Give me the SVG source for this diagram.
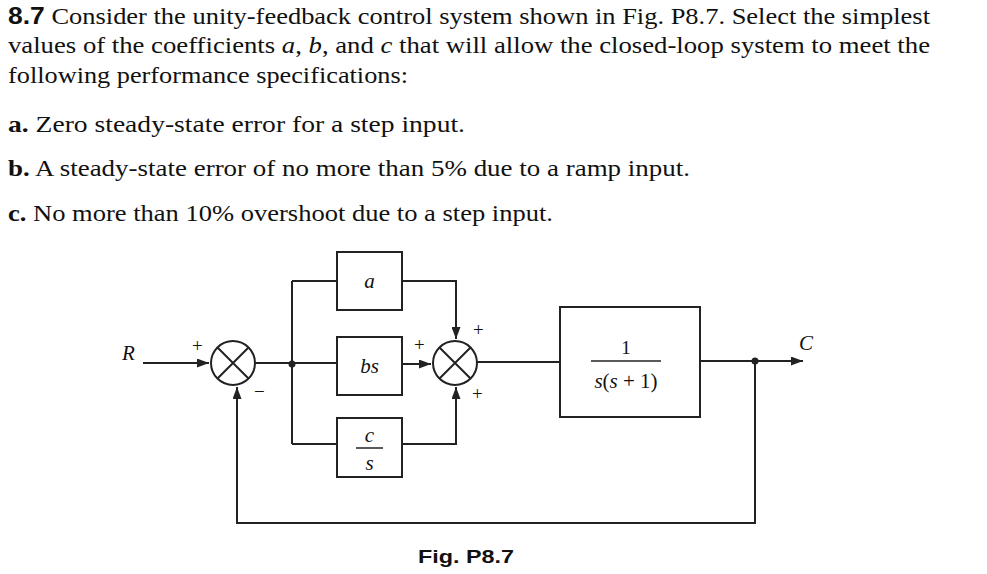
<svg xmlns="http://www.w3.org/2000/svg" width="987" height="574" viewBox="0 0 987 574">
<style>
.t{font-family:"Liberation Serif",serif;font-size:23px;fill:#111}
.m{font-family:"Liberation Serif",serif;font-style:italic;font-size:21px;fill:#111}
.n{font-family:"Liberation Serif",serif;font-size:19px;fill:#111}
.s{font-family:"Liberation Sans",sans-serif;font-size:19px;fill:#111}
.b{fill:#fff;stroke:#222;stroke-width:2}
.w{fill:none;stroke:#222;stroke-width:2}
</style>
<defs><marker id="ar" markerWidth="12" markerHeight="9" refX="12" refY="4.5" orient="auto" markerUnits="userSpaceOnUse"><path d="M0,0L12,4.5L0,9z" fill="#222"/></marker></defs>
<rect width="987" height="574" fill="#fff"/>
<text class="t" x="8" y="24" textLength="922" lengthAdjust="spacingAndGlyphs"><tspan font-weight="bold" font-family="Liberation Sans,sans-serif">8.7</tspan> Consider the unity-feedback control system shown in Fig. P8.7. Select the simplest</text>
<text class="t" x="8" y="53" textLength="922" lengthAdjust="spacingAndGlyphs">values of the coefficients <tspan font-style="italic">a</tspan>, <tspan font-style="italic">b</tspan>, and <tspan font-style="italic">c</tspan> that will allow the closed-loop system to meet the</text>
<text class="t" x="8" y="83" textLength="400" lengthAdjust="spacingAndGlyphs">following performance specifications:</text>
<text class="t" x="8" y="132" textLength="457" lengthAdjust="spacingAndGlyphs"><tspan font-weight="bold">a.</tspan> Zero steady-state error for a step input.</text>
<text class="t" x="8" y="176" textLength="682" lengthAdjust="spacingAndGlyphs"><tspan font-weight="bold">b.</tspan> A steady-state error of no more than 5% due to a ramp input.</text>
<text class="t" x="8" y="221" textLength="545" lengthAdjust="spacingAndGlyphs"><tspan font-weight="bold">c.</tspan> No more than 10% overshoot due to a step input.</text>
<g id="connectors">
<path class="w" d="M143,363H209" marker-end="url(#ar)"/>
<path class="w" d="M255,363H337"/>
<path class="w" d="M292,281V444"/>
<path class="w" d="M292,281H337M402,281H456V339" marker-end="url(#ar)"/>
<path class="w" d="M402,364H431" marker-end="url(#ar)"/>
<path class="w" d="M292,444H337M402,444H456V387" marker-end="url(#ar)"/>
<path class="w" d="M477,362H560"/>
<path class="w" d="M700,361H803" marker-end="url(#ar)"/>
<path class="w" d="M755,361V523H237V387" marker-end="url(#ar)"/>
<circle cx="292" cy="364" r="3.5" fill="#222"/>
<circle cx="755" cy="361" r="3.5" fill="#222"/>
</g>
<g id="sum1"><circle class="b" cx="233" cy="363" r="22"/><path class="w" d="M217.5,347.5l31,31M248.5,347.5l-31,31"/>
<text class="n" x="192" y="352">+</text><text class="n" x="254" y="398">−</text></g>
<g id="sum2"><circle class="b" cx="455" cy="363" r="22"/><path class="w" d="M439.5,347.5l31,31M470.5,347.5l-31,31"/>
<text class="n" x="473" y="336">+</text><text class="n" x="414" y="351">+</text><text class="n" x="472" y="400">+</text></g>
<g id="a"><rect class="b" x="337" y="252" width="65" height="58"/><text class="m" x="369.5" y="288" text-anchor="middle">a</text></g>
<g id="bs"><rect class="b" x="337" y="337" width="65" height="58"/><text class="m" x="369.5" y="373" text-anchor="middle">bs</text></g>
<g id="cs"><rect class="b" x="337" y="418" width="65" height="59"/><text class="m" x="369.5" y="442" text-anchor="middle">c</text><path d="M356,448H383" stroke="#222" stroke-width="1.5"/><text class="m" x="369.5" y="470" text-anchor="middle">s</text></g>
<g id="plant"><rect class="b" x="560" y="307" width="140" height="110"/><text class="n" x="626" y="354" text-anchor="middle">1</text><path d="M591,361H661" stroke="#222" stroke-width="1.5"/><text class="m" x="626" y="388" text-anchor="middle">s<tspan font-style="normal">(</tspan>s<tspan font-style="normal"> + 1)</tspan></text></g>
<text class="m" x="122" y="360">R</text>
<text class="m" x="799" y="350">C</text>
<text class="s" x="466" y="563" text-anchor="middle" font-weight="bold" textLength="96" lengthAdjust="spacingAndGlyphs">Fig. P8.7</text>
</svg>
